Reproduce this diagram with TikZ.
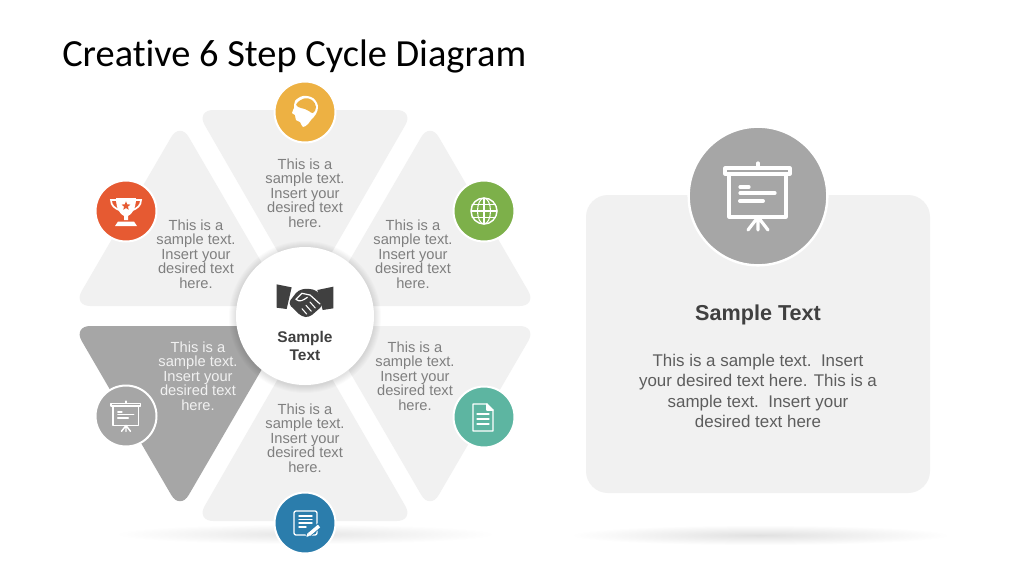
\documentclass[tikz,border=0pt]{standalone}
\usepackage{fontspec}
\setmainfont{Liberation Sans}
\newfontfamily\titlefont[Ligatures=CommonOff]{Carlito}
\usetikzlibrary{shapes.geometric}
\definecolor{panelgray}{HTML}{F1F1F1}
\definecolor{midgray}{HTML}{A6A6A6}
\definecolor{txtgray}{HTML}{7F7F7F}
\definecolor{darktxt}{HTML}{404040}
\definecolor{cyellow}{HTML}{EDB143}
\definecolor{corange}{HTML}{E65A32}
\definecolor{cgreen}{HTML}{7DB04A}
\definecolor{cteal}{HTML}{5DB5A1}
\definecolor{cblue}{HTML}{2B7DAC}
\tikzset{
  tri/.style={fill=panelgray,rounded corners=13pt},
  tridark/.style={fill=midgray,rounded corners=13pt},
  steptext/.style={align=center,text=txtgray,inner sep=0pt,font=\fontsize{11}{10.9}\selectfont},
  steptextlight/.style={steptext,text=panelgray},
  disc/.style={circle,draw=white,line width=1.5pt,minimum size=45.75pt,inner sep=0pt},
  icw/.style={draw=white,line cap=round,line join=round},
}
\newcommand{\iconScreen}[3]{%
 \begin{scope}[shift={(#1,#2)},scale=#3]
  \draw[icw,line width=#3*2.4pt] (0,-33) -- (0,-28);
  \draw[icw,line width=#3*2.4pt] (-33,-28) rectangle (32,-22);
  \draw[icw,line width=#3*2.4pt] (-29,-22) -- (-29,21) -- (28,21) -- (28,-22);
  \draw[icw,line width=#3*2.4pt] (-18,-9) -- (-9,-9);
  \draw[icw,line width=#3*2.4pt] (-18,-3) -- (17,-3);
  \draw[icw,line width=#3*3pt] (-18,5) -- (5,5);
  \draw[icw,line width=#3*2.4pt] (0,21) -- (0,34) (0,21) -- (-10,34) (0,21) -- (10,34);
 \end{scope}}
\begin{document}
\begin{tikzpicture}[x=0.75pt,y=-0.75pt]
\useasboundingbox (0,0) rectangle (1024,576);
\fill[white] (0,0) rectangle (1024,576);
% floor shadows
\shade[inner color=black!10,outer color=white] (305,534) ellipse (190 and 10);
\shade[inner color=black!12,outer color=white] (760,535) ellipse (190 and 10);
\node[anchor=base west,inner sep=0pt,font=\titlefont\fontsize{28.8}{32}\selectfont] (title) at (62,66) {Creative 6 Step Cycle Diagram};
% triangles
\fill[tri] (196,110) -- (414,110) -- (305,299) -- cycle;
\fill[tri] (180,122) -- (287,306) -- (73,306) -- cycle;
\fill[tri] (430,122) -- (537,306) -- (323,306) -- cycle;
\fill[tridark] (73,326) -- (287,326) -- (180,510) -- cycle;
\fill[tri] (305,332) -- (414,521) -- (196,521) -- cycle;
\fill[tri] (323,326) -- (537,326) -- (430,510) -- cycle;
% step texts
\node[steptext] (t1) at (305,193) {This is a\\sample text.\\Insert your\\desired text\\here.};
\node[steptext] (t2) at (196,254) {This is a\\sample text.\\Insert your\\desired text\\here.};
\node[steptext] (t3) at (413,254) {This is a\\sample text.\\Insert your\\desired text\\here.};
\node[steptextlight] (t4) at (198,376) {This is a\\sample text.\\Insert your\\desired text\\here.};
\node[steptext] (t5) at (305,438) {This is a\\sample text.\\Insert your\\desired text\\here.};
\node[steptext] (t6) at (415,376) {This is a\\sample text.\\Insert your\\desired text\\here.};
% centre
\foreach \r in {76,75,...,70}{\fill[black,opacity=.014] (305,317) circle (\r);}
\node[circle,fill=white,minimum size=103.5pt,inner sep=0pt] (hub) at (305,316) {};
\begin{scope}[shift={(230,240)},scale=1/3]
 \fill[darktxt] (140,133) -- (185,142) -- (170,207) -- (140,203) -- cycle;
 \fill[darktxt] (310,140) -- (262,150) -- (278,210) -- (310,205) -- cycle;
 \fill[darktxt,rounded corners=3pt] (174,190) -- (205,150) -- (235,145) -- (264,153) -- (280,195) -- (238,232) -- (215,230) -- cycle;
 \draw[white,line width=.9pt,line cap=round] (198,178) -- (216,160) -- (240,165) -- (270,192);
 \draw[white,line width=.9pt,line cap=round] (198,178) .. controls (210,188) and (220,180) .. (232,172);
 \draw[white,line width=.8pt,line cap=round] (240,186) -- (256,204) (228,196) -- (244,214) (216,206) -- (230,222);
\end{scope}
\node[align=center,inner sep=0pt,text=darktxt,font=\bfseries\fontsize{11.6}{13.5}\selectfont] (hubtext) at (305,346) {Sample\\Text};
% icon discs
\node[disc,fill=cyellow] (d1) at (305,112) {};
\node[disc,fill=corange] (d2) at (126,211) {};
\node[disc,fill=cgreen] (d3) at (484,211) {};
\node[disc,fill=midgray] (d4) at (126,416) {};
\node[disc,fill=cblue] (d5) at (305,523) {};
\node[disc,fill=cteal] (d6) at (484,417) {};
% head icon
\begin{scope}[shift={(305,112)}]
 \fill[white] plot[smooth cycle,tension=.6] coordinates {(-10,-11) (-2,-16) (8,-14) (13,-6) (11,2) (6,8) (3,12) (-2,15) (-5,10) (-9,8) (-10,3) (-13,1) (-11,-4)};
 \fill[cyellow] plot[smooth cycle,tension=.7] coordinates {(-8,-9) (-1,-13.5) (7,-12) (11,-5) (8,1) (4,-1) (0,-3) (-4,-4) (-8,-6)};
\end{scope}
% trophy icon
\begin{scope}[shift={(126,211)}]
 \draw[white,line width=1.3pt] (-9,-11) -- (-15,-11) .. controls (-15,-5) and (-11,-3) .. (-7,-1);
 \draw[white,line width=1.3pt] (9,-11) -- (15,-11) .. controls (15,-5) and (11,-3) .. (7,-1);
 \fill[white] (-10,-13) -- (10,-13) .. controls (10,-2) and (6,3) .. (2,5) -- (2,9) -- (-2,9) -- (-2,5) .. controls (-6,3) and (-10,-2) .. (-10,-13) -- cycle;
 \fill[white] (-8,10.5) -- (8,10.5) -- (11,15) -- (-11,15) -- cycle;
 \node[star,star points=5,star point ratio=2.3,fill=corange,minimum size=7pt,inner sep=0pt] (trophystar) at (0,-5) {};
\end{scope}
% globe icon
\begin{scope}[shift={(484,211)}]
 \clip (0,0) circle (14);
 \draw[white,line width=1.1pt] (0,0) circle (13);
 \draw[white,line width=.8pt] (0,0) ellipse (6.5 and 13);
 \draw[white,line width=.8pt] (0,-13) -- (0,13) (-13,0) -- (13,0) (-13,-6.5) -- (13,-6.5) (-13,6.5) -- (13,6.5);
\end{scope}
% document icon
\begin{scope}[shift={(484,417)}]
 \draw[icw,line width=.9pt] (-11,-13) -- (3,-13) -- (9,-7) -- (9,14) -- (-11,14) -- cycle;
 \draw[icw,line width=.9pt] (3,-13) -- (3,-7) -- (9,-7);
 \fill[white] (3,-13) -- (3,-7) -- (9,-7) -- cycle;
 \draw[icw,line width=.9pt] (-7,-3) -- (5,-3) (-7,2) -- (5,2) (-7,7) -- (5,7);
\end{scope}
% note icon
\begin{scope}[shift={(305,523)}]
 \draw[icw,line width=1pt,rounded corners=1.5pt] (-11,-12) rectangle (12,12);
 \draw[icw,line width=1.1pt] (-6,-7) -- (7,-7) (-6,-3.5) -- (7,-3.5) (-6,0) -- (7,0) (-6,4) -- (1,4);
 \draw[cblue,line width=4pt,line cap=butt] (2,13) -- (15,2);
 \draw[white,line width=2.6pt,line cap=butt] (4,11.5) -- (14,3);
 \fill[white] (1.5,14) -- (2.5,10) -- (5,12.5) -- cycle;
\end{scope}
\iconScreen{126}{416}{.45}
% right panel
\fill[panelgray,rounded corners=16.5pt] (586,195) rectangle (930,493);
\node[circle,draw=white,fill=midgray,line width=1.8pt,minimum size=104pt,inner sep=0pt] (bigdisc) at (758,196) {};
\iconScreen{758}{196}{1}
\node[inner sep=0pt,text=darktxt,font=\bfseries\fontsize{16.2}{19}\selectfont] (headtext) at (758,315) {Sample Text};
\node[align=center,inner sep=0pt,text=darktxt!85!white,font=\fontsize{12.7}{15.4}\selectfont] (bodytext) at (758,391) {This is a sample text.\ \ Insert\\your desired text here. This is a\\sample text.\ \ Insert your\\desired text here};
\end{tikzpicture}
\end{document}
